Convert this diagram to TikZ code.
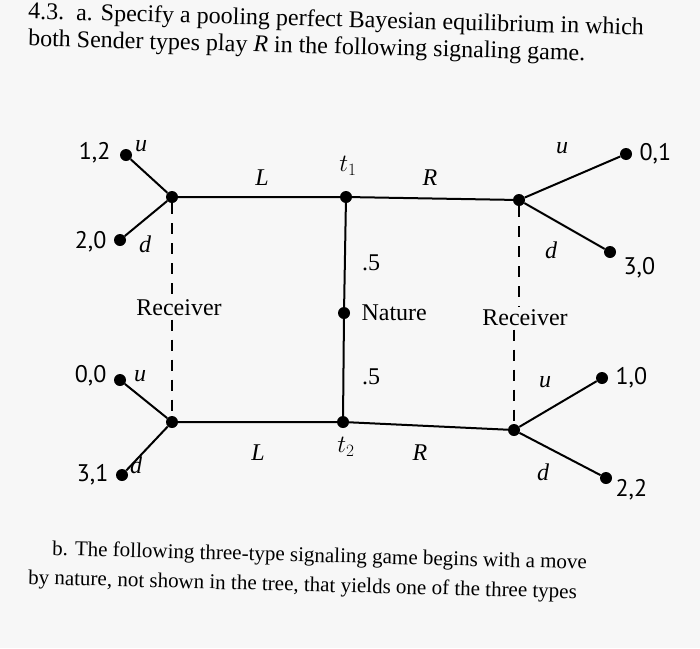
\documentclass[tikz,border=0pt]{standalone}
\usepackage{fontspec}
\setmainfont{Liberation Serif}
\newfontfamily\condfont{PT Sans}
\begin{document}
\begin{tikzpicture}[x=1pt,y=-1pt,
  dotn/.style={circle,fill=black,inner sep=0pt,minimum size=12pt},
  lbl/.style={font=\fontsize{24}{26}\selectfont},
  ilbl/.style={font=\fontsize{24}{26}\selectfont\itshape},
  edge/.style={line width=2pt},
  info/.style={line width=1.4pt,dash pattern=on 11pt off 9pt}]
\fill[gray!6] (0,0) rectangle (700,648);
\useasboundingbox (0,0) rectangle (700,648);
% text
\node[anchor=west,lbl,rotate=-1.5,inner sep=0pt] (h1) at (28,13) {4.3.\ \ a. Specify a pooling perfect Bayesian equilibrium in which};
\node[anchor=west,lbl,rotate=-1.5,inner sep=0pt] (h2) at (28,40) {both Sender types play \textit{R} in the following signaling game.};
\node[anchor=west,font=\fontsize{21}{23}\selectfont,rotate=-1.5,inner sep=0pt] (b1) at (52,550) {b. The following three-type signaling game begins with a move};
\node[anchor=west,font=\fontsize{21}{23}\selectfont,rotate=-1.5,inner sep=0pt] (b2) at (28,579) {by nature, not shown in the tree, that yields one of the three types};
% decision nodes
\node[dotn] (TL) at (172,197) {};
\node[dotn] (T1) at (346,197) {};
\node[dotn] (TR) at (519,200) {};
\node[dotn] (BL) at (172,422) {};
\node[dotn] (T2) at (343,422) {};
\node[dotn] (BR) at (514,430) {};
\node[dotn] (N) at (344,313) {};
% terminals
\node[dotn] (a) at (126,155) {};
\node[dotn] (b) at (120,240) {};
\node[dotn] (c) at (120,380) {};
\node[dotn] (d) at (122,475) {};
\node[dotn] (e) at (626,154) {};
\node[dotn] (f) at (610,252) {};
\node[dotn] (g) at (602,378) {};
\node[dotn] (h) at (606,478) {};
% edges
\draw[edge] (TL) -- (T1) -- (TR);
\draw[edge] (BL) -- (T2) -- (BR);
\draw[edge] (T1) -- (N) -- (T2);
\draw[edge] (TL) -- (a); \draw[edge] (TL) -- (b);
\draw[edge] (BL) -- (c); \draw[edge] (BL) -- (d);
\draw[edge] (TR) -- (e); \draw[edge] (TR) -- (f);
\draw[edge] (BR) -- (g); \draw[edge] (BR) -- (h);
% information sets
\node[lbl] (RL) at (179,308) {Receiver};
\node[lbl] (RR) at (525,318) {Receiver};
\draw[info] (TL) -- (RL.north -| TL);
\draw[info] (RL.south -| BL) -- (BL);
\draw[info] (TR) -- (RR.north -| TR);
\draw[info] (RR.south -| BR) -- (BR);
% labels
\node[lbl,anchor=east] at (114,153) {\condfont 1,2};
\node[lbl,anchor=east] at (110,242) {\condfont 2,0};
\node[lbl,anchor=east] at (110,376) {\condfont 0,0};
\node[lbl,anchor=east] at (112,475) {\condfont 3,1};
\node[lbl,anchor=west] at (636,154) {\condfont 0,1};
\node[lbl,anchor=west] at (620,268) {\condfont 3,0};
\node[lbl,anchor=west] at (612,378) {\condfont 1,0};
\node[lbl,anchor=west] at (612,490) {\condfont 2,2};
\node[ilbl] at (141,146) {u};
\node[ilbl] at (145,244) {d};
\node[ilbl] at (140,376) {u};
\node[ilbl] at (136,465) {d};
\node[ilbl] at (562,148) {u};
\node[ilbl] at (551,250) {d};
\node[ilbl] at (545,382) {u};
\node[ilbl] at (543,472) {d};
\node[lbl] at (262,178) {\textit{L}};
\node[lbl] at (430,178) {\textit{R}};
\node[lbl] at (258,453) {\textit{L}};
\node[lbl] at (420,453) {\textit{R}};
\node[lbl] at (348,166) {$t_1$};
\node[lbl] at (346,447) {$t_2$};
\node[lbl] at (371,263) {.5};
\node[lbl] at (371,377) {.5};
\node[lbl,anchor=west] at (358,313) {Nature};
\end{tikzpicture}
\end{document}
